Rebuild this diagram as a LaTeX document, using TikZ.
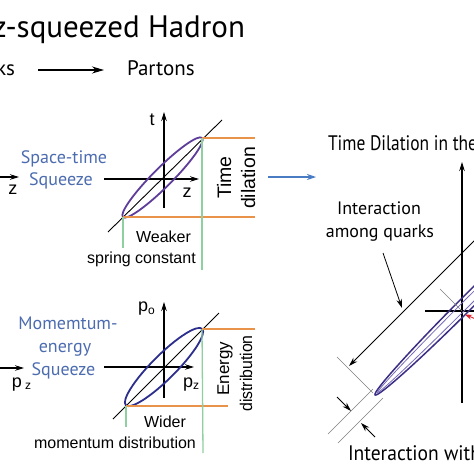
\documentclass[tikz,border=0pt]{standalone}
\usepackage{fontspec}
\setmainfont{PT Sans}
\newfontfamily\arialf{Liberation Sans}
\usetikzlibrary{arrows.meta}
\definecolor{tblue}{HTML}{4C6CB0}
\definecolor{torange}{HTML}{E8924A}
\definecolor{tgreen}{HTML}{8FD0A0}
\definecolor{tpurple}{HTML}{5E3C99}
\definecolor{tnavy}{HTML}{2B2E8C}
\definecolor{rpurple}{HTML}{3B2F85}
\definecolor{rinner}{HTML}{7A6AB8}
\definecolor{barrow}{HTML}{4A7CC4}
\definecolor{tred}{HTML}{E0202A}
\newcommand\fsz[1]{\fontsize{#1}{#1}\selectfont}
\tikzset{
  txt/.style={inner sep=0pt, outer sep=0pt},
  axis/.style={line width=1.1pt, -{Stealth[length=9pt,width=5.5pt]}},
  diag/.style={line width=0.9pt},
  ell/.style={line width=1.8pt},
  oline/.style={torange, line width=1.3pt},
  gline/.style={tgreen, line width=1.3pt},
  thin/.style={gray, line width=0.6pt},
  dimarrow/.style={line width=0.9pt, -{Stealth[length=9pt,width=5.5pt]}},
}
\begin{document}
\begin{tikzpicture}[x=1pt,y=-1pt]
\useasboundingbox (0,0) rectangle (474,474);
\clip (0,0) rectangle (474,474);
\fill[white] (0,0) rectangle (474,474);

% ---- header ----
\node[txt, anchor=base east, font=\fsz{31}] (title) at (245,37) {z-squeezed Hadron};
\node[txt, anchor=base east, font=\fsz{21}] (quarks) at (15,75) {ks};
\node[txt, anchor=base west, font=\fsz{21}] (partons) at (127,75) {Partons};
\coordinate (qa) at (38,70);
\coordinate (qb) at (104,70);
\draw[line width=1.1pt, -{Stealth[length=12pt,width=7pt]}] (qa) -- (qb);

% ---- upper panel ----
\coordinate (la1) at (0,177);
\coordinate (la2) at (19,177);
\draw[axis] (la1) -- (la2);
\node[txt, anchor=base, font=\arialf\fsz{18}] (lz1) at (13,194) {z};
\node[txt, anchor=base, font=\fsz{18}, text=tblue] (st1) at (64,163) {Space-time};
\node[txt, anchor=base, font=\fsz{18}, text=tblue] (st2) at (61,185) {Squeeze};

\coordinate (ha1) at (104,179);
\coordinate (ha2) at (199,179);
\coordinate (va1) at (164,208);
\coordinate (va2) at (164,112);
\draw[axis] (ha1) -- (ha2);
\draw[axis] (va1) -- (va2);
\node[txt, anchor=base, font=\arialf\fsz{18}] (tl) at (152,125) {t};
\node[txt, anchor=base, font=\arialf\fsz{18}] (zl) at (187,197) {z};
\coordinate (d1a) at (108,232);
\coordinate (d1b) at (222,120);
\draw[diag] (d1a) -- (d1b);
\draw[ell, tpurple, rotate around={45:(162.5,177.5)}] (162.5,177.5) ellipse [x radius=56, y radius=9.5];
\coordinate (e1t) at (202,138);
\coordinate (e1b) at (123,217);
\draw[oline] (e1t) -- (255,138);
\draw[oline] (e1b) -- (255,217);
\draw[gline] (e1b) -- (123,248);
\draw[gline] (e1t) -- (202,270);
\node[txt, anchor=base, rotate=90, font=\arialf\fsz{19.5}] (time) at (231,177.5) {Time};
\node[txt, anchor=base, rotate=90, font=\arialf\fsz{19.5}] (dil) at (255,178) {dilation};
\node[txt, anchor=base, font=\arialf\fsz{16}] (weak) at (163.5,242) {Weaker};
\node[txt, anchor=base, font=\arialf\fsz{16}] (spring) at (141.5,263) {spring constant};

\coordinate (ba1) at (268,177);
\coordinate (ba2) at (316,177);
\draw[barrow, line width=1.1pt, -{Stealth[length=9pt,width=6pt]}] (ba1) -- (ba2);

% ---- lower panel ----
\coordinate (lb1) at (0,368);
\coordinate (lb2) at (24,368);
\draw[axis] (lb1) -- (lb2);
\node[txt, anchor=base west, font=\arialf\fsz{18}] (lpz) at (12,387) {p\,\raisebox{-2pt}{\fsz{12}z}};
\node[txt, anchor=base, font=\fsz{18}, text=tblue] (me1) at (68,329) {Momemtum-};
\node[txt, anchor=base, font=\fsz{18}, text=tblue] (me2) at (65,352) {energy};
\node[txt, anchor=base, font=\fsz{18}, text=tblue] (me3) at (63.5,375) {Squeeze};

\coordinate (hb1) at (104,367);
\coordinate (hb2) at (194,367);
\coordinate (vb1) at (164,398);
\coordinate (vb2) at (164,302);
\draw[axis] (hb1) -- (hb2);
\draw[axis] (vb1) -- (vb2);
\node[txt, anchor=base west, font=\arialf\fsz{18}] (po) at (138,311) {p\raisebox{-3pt}{\fsz{12}o}};
\node[txt, anchor=base west, font=\arialf\fsz{18}] (pz) at (183,387) {p\raisebox{-2pt}{\fsz{12}z}};
\coordinate (d2a) at (113,419);
\coordinate (d2b) at (219,313);
\draw[diag] (d2a) -- (d2b);
\draw[ell, tnavy, rotate around={45:(164,367)}] (164,367) ellipse [x radius=54, y radius=12];
\coordinate (e2t) at (202,329);
\coordinate (e2b) at (126,406);
\draw[oline] (e2t) -- (255,329);
\draw[oline] (e2b) -- (228,406);
\draw[gline] (e2b) -- (126,427);
\draw[gline] (e2t) -- (203,453);
\node[txt, anchor=base, rotate=90, font=\arialf\fsz{17}] (energy) at (229,368.5) {Energy};
\node[txt, anchor=base, rotate=90, font=\arialf\fsz{17}] (distr) at (252,373.5) {\scalebox{0.93}[1]{distribution}};
\node[txt, anchor=base, font=\arialf\fsz{16}] (wider) at (165,427) {Wider};
\node[txt, anchor=base, font=\arialf\fsz{16}] (momd) at (115,448) {momentum distribution};

% ---- right panel ----
\node[txt, anchor=base west, font=\fsz{21}] (tdil) at (328,150) {\scalebox{0.83}[1]{Time Dilation in the}};
\coordinate (rv1) at (462,403);
\coordinate (rv2) at (462,162);
\draw[axis] (rv1) -- (rv2);
\coordinate (rh1) at (425,311);
\coordinate (rh2) at (480,311);
\draw[line width=1.1pt] (rh1) -- (rh2);
\draw[ell, rpurple, line width=1.5pt, rotate around={45:(468,302)}] (468,302) ellipse [x radius=131.5, y radius=7];
\draw[rinner, line width=0.8pt, rotate around={45:(468,302)}] (468,302) ellipse [x radius=128, y radius=3.5];
\node[txt, anchor=base, font=\fsz{18}] (iaq1) at (379,214) {Interaction};
\node[txt, anchor=base, font=\fsz{18}] (iaq2) at (380,237) {among quarks};
\coordinate (ar1) at (383,253);
\coordinate (ar2) at (402,308);
\draw[dimarrow, line width=0.8pt] (ar1) -- (ar2);
\coordinate (bl1) at (482,233);
\coordinate (bl2) at (349,366);
\draw[dimarrow] (bl1) -- (bl2);
\draw[thin] (337,357) -- (373,393);
\draw[thin] (440,289) -- (462,311);
\draw[thin] (328,434) -- (373,389);
\draw[thin] (338,443) -- (383,398);
\coordinate (sa1) at (337,397);
\coordinate (sa2) at (351,411);
\coordinate (sb1) at (375,437);
\coordinate (sb2) at (361,423);
\draw[dimarrow, line width=0.8pt] (sa1) -- (sa2);
\draw[dimarrow, line width=0.8pt] (sb1) -- (sb2);
\coordinate (red1) at (478,320);
\coordinate (red2) at (465,314.5);
\draw[tred, line width=0.9pt, -{Stealth[length=7pt,width=5pt]}] (red1) -- (red2);
\node[txt, anchor=base west, font=\fsz{21}] (iwith) at (348,460) {\scalebox{0.93}[1]{Interaction with}};
\end{tikzpicture}
\end{document}
